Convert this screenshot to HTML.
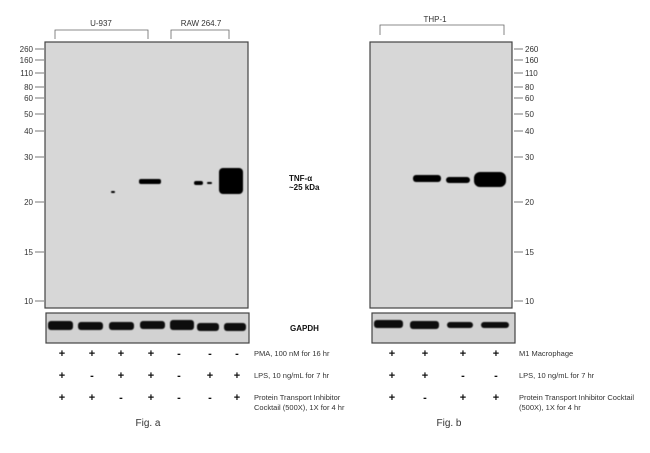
<!DOCTYPE html>
<html><head><meta charset="utf-8"><style>
body{margin:0;background:#fff;}
svg{display:block;font-family:"Liberation Sans",sans-serif;}
</style></head><body>
<svg width="650" height="453" viewBox="0 0 650 453">
<defs><filter id="blur"><feGaussianBlur stdDeviation="0.6"/></filter></defs>
<g font-size="8" fill="#333">
  <!-- brackets -->
  <g stroke="#666" fill="none" stroke-width="0.8"><path d="M55,39 V30 H148 V39"/></g>
  <text x="101" y="26" text-anchor="middle">U-937</text>
  <g stroke="#666" fill="none" stroke-width="0.8"><path d="M171,39 V30 H229 V39"/></g>
  <text x="201" y="26" text-anchor="middle">RAW 264.7</text>
  <g stroke="#666" fill="none" stroke-width="0.8"><path d="M380,35 V25 H504 V35"/></g>
  <text x="435" y="22" text-anchor="middle">THP-1</text>

  <!-- blots -->
  <rect x="45" y="42" width="203" height="266" fill="#d7d7d7" stroke="#444" stroke-width="1.2"/>
  <rect x="370" y="42" width="142" height="266" fill="#d7d7d7" stroke="#444" stroke-width="1.2"/>
  <rect x="46" y="313" width="203" height="30" fill="#d2d2d2" stroke="#444" stroke-width="1.2"/>
  <rect x="372" y="313" width="143" height="30" fill="#d2d2d2" stroke="#444" stroke-width="1.2"/>

  <g id="ticks"></g>
  <g id="bands" filter="url(#blur)"></g>

  <text x="289" y="181" font-weight="bold" fill="#111">TNF-α</text>
  <text x="289" y="190" font-weight="bold" fill="#111">~25  kDa</text>
  <text x="290" y="331" font-weight="bold" fill="#111">GAPDH</text>

  <g id="treat" font-size="7.5"></g>
  <text x="148" y="426" font-size="10" text-anchor="middle">Fig. a</text>
  <text x="449" y="426" font-size="10" text-anchor="middle">Fig. b</text>
</g>
</svg>
<script>
const markers=["260","160","110","80","60","50","40","30","20","15","10"];
const markerY=[49,60,73,87,98,114,131,157,202,252,301];
const rowsA=[["+","+","+","+","-","-","-"],["+","-","+","+","-","+","+"],["+","+","-","+","-","-","+"]];
const labelsA=[["PMA, 100 nM for 16 hr"],["LPS, 10 ng/mL for 7 hr"],["Protein Transport Inhibitor","Cocktail (500X), 1X for 4 hr"]];
const rowsB=[["+","+","+","+"],["+","+","-","-"],["+","-","+","+"]];
const labelsB=[["M1 Macrophage"],["LPS, 10 ng/mL for 7 hr"],["Protein Transport Inhibitor Cocktail","(500X), 1X for 4 hr"]];
const laneXA=[62,92,121,151,179,210,237];
const laneXB=[392,425,463,496];
const NS="http://www.w3.org/2000/svg";
function mk(t,a,p){const e=document.createElementNS(NS,t);for(const k in a)e.setAttribute(k,a[k]);p.appendChild(e);return e;}
const tk=document.getElementById('ticks');
markers.forEach((m,i)=>{
  const y=markerY[i];
  const l1=mk('line',{x1:35,x2:44,y1:y,y2:y,stroke:'#555','stroke-width':0.8},tk);
  
  
  const t1=mk('text',{x:33,y:y+3,'text-anchor':'end'},tk);t1.textContent=m;
  
  
  const l2=mk('line',{x1:514,x2:523,y1:y,y2:y,stroke:'#555','stroke-width':0.8},tk);
  
  
  const t2=mk('text',{x:525,y:y+3},tk);t2.textContent=m;
  
  
});
// bands: x,y,w,h,rx
const tnfBands=[[111,191,4,2,1],[139,179,22,5,2],[194,181,9,4,2],[207,182,5,2,1],[219,168,24,26,4],[413,175,28,7,3],[446,177,24,6,3],[474,172,32,15,6]];
const gapdhBands=[[48,321,25,9],[78,322,25,8],[109,322,25,8],[140,321,25,8],[170,320,24,10],[197,323,22,8],[224,323,22,8],[374,320,29,8],[410,321,29,8],[447,322,26,6],[481,322,28,6]];
const bg=document.getElementById('bands');
tnfBands.forEach((b,i)=>{
  const r=mk('rect',{x:b[0],y:b[1],width:b[2],height:b[3],rx:b[4],fill:'#050505'},bg);
  
  
});
gapdhBands.forEach((b,i)=>{
  const r=mk('rect',{x:b[0],y:b[1],width:b[2],height:b[3],rx:3,fill:'#0a0a0a'},bg);
  
  
});
const tg=document.getElementById('treat');
const rowY=[353,375,397];
function draw(rows,labels,xs,lx,tag){
  rows.forEach((row,r)=>{
    row.forEach((s,j)=>{
      const t=mk('text',{x:xs[j],y:rowY[r]+4,'text-anchor':'middle','font-size':11,'font-weight':'bold',fill:'#111'},tg);
      t.textContent=s;
      
      
    });
    labels[r].forEach((ln,k)=>{
      const t=mk('text',{x:lx,y:rowY[r]+3+k*10},tg);t.textContent=ln;
      
      
    });
  });
}
draw(rowsA,labelsA,laneXA,254,'fig-a');
draw(rowsB,labelsB,laneXB,519,'fig-b');
</script>
</body></html>
